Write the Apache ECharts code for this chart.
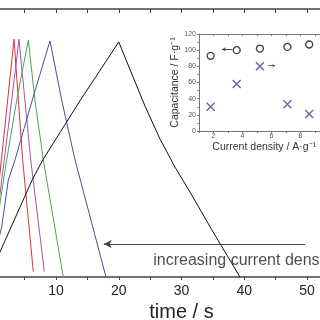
<!DOCTYPE html>
<html>
<head>
<meta charset="utf-8">
<script src="https://cdn.jsdelivr.net/npm/echarts@6/dist/echarts.min.js"></script>
<style>
  html, body { margin: 0; padding: 0; background: #fff; }
  #chart { width: 320px; height: 320px; }
</style>
</head>
<body>
<div id="chart"></div>
<script>
// charge / discharge curves: [time (s), potential (a.u.)]
const redCurve = [[0, 0.15], [1.35, 0.448], [3.31, 0.887], [4.69, 0.437], [6.38, 0.02]];
const purpleCurve = [[0, 0.12], [1.08, 0.31], [2.94, 0.66], [4.1, 0.887], [5.97, 0.437], [8.14, 0.02]];
const greenCurve = [[0, 0.1], [1.08, 0.276], [2.14, 0.437], [3.74, 0.66], [5.59, 0.884], [6.65, 0.66], [7.98, 0.437], [8.52, 0.362], [11.17, 0]];
const blueCurve = [[0, 0.06], [1.35, 0.187], [2.4, 0.362], [3.47, 0.437], [6.22, 0.66], [9.04, 0.881], [10.91, 0.66], [13.03, 0.437], [17.97, 0]];
const blackCurve = [[0, 0.037], [1.35, 0.108], [6.2, 0.362], [7.9, 0.437], [13.8, 0.657], [20, 0.877],
    [21.95, 0.765], [24.18, 0.638], [26.57, 0.515], [28.96, 0.41], [31.35, 0.317], [34.86, 0.175], [39.32, 0]];

// inset: current density (A/g) vs capacitance (F/g)
const currentDensity = [1.8, 3.6, 5.2, 7.1, 8.6];
const capacitance = [93, 100, 102, 104, 107];
const crossValues = [30, 58, 80, 33, 21];

// annotation
const arrowFrom = [49.7, 0.123];
const arrowTo = [17.6, 0.123];
const noteText = 'increasing current density';
const notePos = [25.5, 0.063];

const FONT = "'Liberation Sans', Arial, sans-serif";

const chart = echarts.init(document.getElementById('chart'));

function curve(data, color) {
    return {
        type: 'line',
        xAxisIndex: 0,
        yAxisIndex: 0,
        data: data,
        showSymbol: false,
        lineStyle: { color: color, width: 1 },
        silent: true
    };
}

const option = {
    animation: false,
    textStyle: { fontFamily: FONT },
    grid: [
        { left: -6.75, right: -49.75, top: 9, bottom: 43, outerBoundsMode: 'none' },
        { left: 199, right: -9.5, top: 34, bottom: 189, outerBoundsMode: 'none' }
    ],
    xAxis: [
        {
            gridIndex: 0, type: 'value', min: 0, max: 60, interval: 5,
            axisLine: { lineStyle: { color: '#444', width: 1.5 } },
            axisTick: { length: 3, lineStyle: { color: '#444' } },
            axisLabel: {
                fontSize: 14, color: '#222', margin: 7, fontFamily: FONT,
                formatter: v => (v % 10 === 0 ? v : '')
            },
            splitLine: { show: false },
            name: 'time / s', nameLocation: 'middle', nameGap: 25,
            nameTextStyle: { fontSize: 20, color: '#222', fontFamily: FONT }
        },
        {
            gridIndex: 0, type: 'value', position: 'top', min: 0, max: 60, interval: 5,
            axisLine: { lineStyle: { color: '#444', width: 1.5 } },
            axisTick: { inside: true, length: 4, lineStyle: { color: '#444' } },
            axisLabel: { show: false },
            splitLine: { show: false }
        },
        {
            gridIndex: 1, type: 'value', min: 1, max: 10, interval: 1,
            axisLine: { lineStyle: { color: '#777', width: 1 } },
            axisTick: { length: 2, lineStyle: { color: '#777' } },
            axisLabel: {
                fontSize: 7, color: '#555', margin: 2, fontFamily: FONT,
                formatter: v => (v % 2 === 0 && v < 10 ? v : '')
            },
            splitLine: { show: false },
            name: 'Current density / A·g⁻¹', nameLocation: 'middle', nameGap: 11,
            nameTextStyle: { fontSize: 10.5, color: '#333', fontFamily: FONT }
        },
        {
            gridIndex: 1, type: 'value', position: 'top', min: 1, max: 10, interval: 1,
            axisLine: { lineStyle: { color: '#777', width: 1 } },
            axisTick: { inside: true, length: 2, lineStyle: { color: '#777' } },
            axisLabel: { show: false },
            splitLine: { show: false }
        }
    ],
    yAxis: [
        { gridIndex: 0, type: 'value', min: 0, max: 1, show: false },
        {
            gridIndex: 1, type: 'value', min: 0, max: 120, interval: 20,
            axisLine: { show: true, lineStyle: { color: '#777', width: 1 } },
            axisTick: { show: true, length: 2, lineStyle: { color: '#777' } },
            minorTick: { show: true, splitNumber: 2, length: 1.5, lineStyle: { color: '#777' } },
            axisLabel: { fontSize: 7, color: '#555', margin: 3, fontFamily: FONT },
            splitLine: { show: false },
            name: 'Capacitance / F·g⁻¹', nameLocation: 'middle', nameGap: 18,
            nameTextStyle: { fontSize: 10.5, color: '#333', fontFamily: FONT }
        }
    ],
    series: [
        curve(redCurve, '#d0343e'),
        curve(purpleCurve, '#b0509e'),
        curve(greenCurve, '#45a94c'),
        curve(blueCurve, '#4a4f94'),
        Object.assign(curve(blackCurve, '#111'), {
            markLine: {
                silent: true,
                symbol: ['none', 'arrow'],
                symbolSize: [6, 8],
                lineStyle: { color: '#444', width: 1, type: 'solid' },
                label: { show: false },
                data: [[{ coord: arrowFrom }, { coord: arrowTo }]]
            }
        }),
        {
            type: 'scatter',
            xAxisIndex: 0, yAxisIndex: 0,
            data: [notePos],
            symbolSize: 0,
            silent: true,
            label: {
                show: true, position: 'right', distance: 0,
                formatter: noteText, fontSize: 16, color: '#222', fontFamily: FONT
            }
        },
        {
            type: 'scatter',
            xAxisIndex: 2, yAxisIndex: 1,
            data: currentDensity.map((x, i) => [x, capacitance[i]]),
            symbol: 'circle', symbolSize: 7,
            itemStyle: { color: '#fff', borderColor: '#111', borderWidth: 1.3 },
            silent: true,
            markLine: {
                silent: true,
                symbol: ['none', 'arrow'],
                symbolSize: [3, 4],
                lineStyle: { color: '#444', width: 1, type: 'solid' },
                label: { show: false },
                data: [[{ coord: [3.27, 101] }, { coord: [2.58, 101] }]]
            }
        },
        {
            type: 'scatter',
            xAxisIndex: 2, yAxisIndex: 1,
            data: currentDensity.map((x, i) => [x, crossValues[i]]),
            symbol: 'path://M0,0L10,10M10,0L0,10', symbolSize: 8,
            itemStyle: { color: 'none', borderColor: '#3b4585', borderWidth: 1.4 },
            silent: true,
            markLine: {
                silent: true,
                symbol: ['none', 'arrow'],
                symbolSize: [3, 3],
                lineStyle: { color: '#666', width: 1, type: 'solid' },
                label: { show: false },
                data: [[{ coord: [5.79, 80.8] }, { coord: [6.26, 80.8] }]]
            }
        }
    ]
};

chart.setOption(option);
</script>
</body>
</html>
